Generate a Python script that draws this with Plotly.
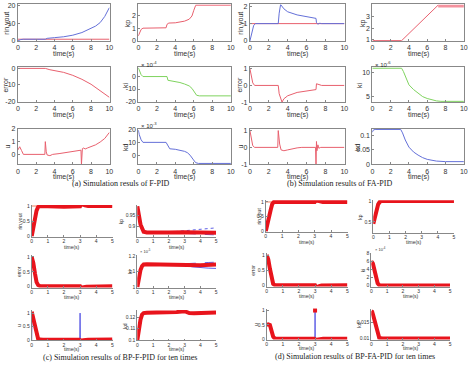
import plotly.graph_objects as go

W, H = 474, 369

# ---------------- data ----------------
# (a) F-PID  (t in s)
a_rin_t = [0, 10]
a_rin = [1, 1]
a_yout_t = [0, 0.3, 0.6, 3.0, 3.2, 3.4, 4, 5, 6, 7, 8, 8.5, 9, 9.5, 10]
a_yout = [0, 0.8, 1.0, 1.0, 1.5, 1.7, 1.9, 2.4, 3.3, 4.8, 7.0, 8.5, 10.5, 14, 19]
a_kp_t = [0, 0.1, 0.3, 0.5, 3.0, 3.1, 3.3, 4.0, 4.5, 5.0, 5.5, 5.8, 6.0, 6.2]
a_kp = [0.4, 0.6, 0.9, 1.0, 1.03, 1.3, 1.4, 1.42, 1.48, 1.55, 1.7, 1.95, 2.4, 2.78]
a_kp_band_t = [6.2, 10]          # oscillation band of kp after saturation
a_kp_band_lo = [2.74, 2.74]
a_kp_band_hi = [2.86, 2.86]
a_err_t = [0, 0.3, 3.0, 3.5, 4, 5, 6, 7, 8, 8.5, 9, 9.5, 10]
a_err = [0, 0, 0, -0.8, -1.2, -2.4, -4.2, -6.6, -9.6, -11.5, -13.5, -15.5, -17.5]
a_ki_t = [0, 0.1, 0.3, 0.5, 3.1, 3.2, 3.5, 4, 4.5, 5, 5.5, 5.8, 6.0, 6.3, 6.6, 10]
a_ki = [7, 5, 1.5, 0, 0, -3, -3.3, -4, -4.8, -6, -7.5, -9.5, -12, -15, -15.5, -15.5]
a_u_t = [0, 0.2, 0.4, 0.6, 2.95, 3.0, 3.1, 3.2, 3.5, 3.8, 4.5, 5, 6, 6.9, 6.95,
         7.05, 7.2, 7.35, 7.6, 8, 8.5, 9, 9.5, 10]
a_u = [0.35, 0.6, 0.3, 0.0, 0.0, 1.0, 0.2, -0.05, -0.1, 0.0, 0.06, 0.12, 0.22, 0.33, -0.8,
       0.45, 0.5, 0.42, 0.5, 0.6, 0.75, 0.97, 1.25, 1.72]
a_kd_t = [0, 0.1, 0.3, 0.5, 3.0, 3.2, 3.4, 4, 4.5, 5, 5.3, 5.6, 5.9, 6.2, 6.5, 10]
a_kd = [19.5, 16, 12, 10, 10, 7, 5, 4.6, 4, 3, 2, 0, -3, -5.8, -6.4, -6.4]

# (b) FA-PID
b_rin_t = [0, 10]
b_rin = [1, 1]
b_yout_t = [0, 0.2, 0.4, 0.6, 3.0, 3.1, 3.25, 3.6, 4, 5, 6, 7, 7.05, 7.2, 7.4, 7.6, 10]
b_yout = [0, 0.5, 0.9, 1.0, 1.0, 1.6, 2.1, 1.85, 1.68, 1.5, 1.4, 1.3, 1.05, 0.97, 1.02, 1.0, 1.0]
b_kp_t = [0, 0.1, 0.3, 3.2, 7.2]
b_kp = [1.0, 0.95, 0.93, 0.93, 4.0]
b_kp_band_t = [7.2, 10]
b_kp_band_lo = [3.8, 3.8]
b_kp_band_hi = [4.05, 4.05]
b_err_t = [0, 0.1, 0.2, 0.3, 0.5, 3.0, 3.1, 3.3, 3.4, 3.6, 4, 5, 6, 7, 7.05, 7.15, 7.3, 7.6, 10]
b_err = [1, 0.75, 0.4, 0.15, 0, 0, -0.5, -0.95, -1.0, -0.8, -0.62, -0.42, -0.32, -0.25,
         0.1, 0.08, 0.02, 0, 0]
b_ki_t = [0, 3.2, 3.4, 3.7, 4, 4.5, 5, 5.5, 6, 6.5, 7, 7.5, 10]
b_ki = [11, 11, 10.3, 8.8, 7.5, 6.5, 5.7, 5.0, 4.6, 4.3, 4.1, 4.0, 4.0]
b_u_t = [0, 0.1, 0.2, 0.3, 0.5, 2.95, 3.0, 3.15, 3.3, 3.6, 4, 4.5, 5, 5.5, 6.95, 7.0,
         7.05, 7.1, 7.2, 7.3, 7.5, 10]
b_u = [1.0, 0.7, 0.3, 0.1, 0, 0, 1.0, 0.2, -0.15, -0.2, -0.15, -0.08, -0.03, 0, 0, -1.0,
       0.35, -0.2, 0.15, -0.05, 0, 0]
b_kd_t = [0, 0.1, 0.3, 3.1, 3.3, 3.6, 4, 4.5, 5, 5.5, 6, 6.5, 7, 8, 10]
b_kd = [0.112, 0.12, 0.122, 0.122, 0.11, 0.085, 0.06, 0.043, 0.032, 0.023, 0.017, 0.013,
        0.011, 0.009, 0.009]

# (c) BP-F-PID, ten runs (t in s)
c_rin_t = [0, 5]
c_rin = [1, 1]
c_yout_t = [0, 0.1, 0.2, 0.3, 0.4, 0.5, 2.0, 3.0, 3.05, 3.15, 3.3, 3.5, 5]
c_yout = [0, 0.3, 0.6, 0.85, 0.97, 1.0, 0.98, 0.99, 1.05, 1.06, 1.02, 1.0, 1.0]
c_kp_t = [0, 0.05, 0.1, 0.2, 0.3, 0.4, 0.6, 1, 2, 3, 4, 5]
c_kp = [0.99, 0.975, 0.95, 0.91, 0.888, 0.878, 0.875, 0.874, 0.875, 0.876, 0.875, 0.874]
c_kpb_t = [2, 2.5, 3, 3.5, 4, 4.5, 5]
c_kpb1 = [0.876, 0.879, 0.882, 0.886, 0.889, 0.892, 0.895]
c_kpb2 = [0.875, 0.874, 0.872, 0.869, 0.867, 0.865, 0.864]
c_err_t = [0, 0.1, 0.2, 0.3, 0.4, 0.5, 0.7, 3.0, 3.05, 3.2, 3.4, 5]
c_err = [1.0, 0.8, 0.45, 0.15, 0.05, 0.02, 0.01, 0.01, -0.04, -0.03, 0.0, 0.01]
c_ki_t = [0, 0.1, 0.2, 0.3, 0.4, 0.6, 1, 2, 3, 3.5, 4, 5]
c_ki = [1.0, 1.06, 1.11, 1.135, 1.145, 1.147, 1.146, 1.143, 1.142, 1.135, 1.14, 1.145]
c_kib_t = [2, 3, 3.5, 4, 4.5, 5]
c_kib1 = [1.143, 1.14, 1.13, 1.125, 1.122, 1.12]
c_kib2 = [1.145, 1.148, 1.152, 1.155, 1.158, 1.16]
c_u_t = [0, 0.1, 0.2, 0.3, 0.4, 0.5, 0.7, 2.95, 3.05, 3.2, 3.5, 5]
c_u = [1.05, 0.8, 0.45, 0.15, 0.05, 0.03, 0.02, 0.02, -0.01, 0.0, 0.02, 0.03]
c_ub_t = [0, 0.02, 0.1, 0.2, 0.3, 0.4, 2.98, 3.0, 3.02, 5]
c_ub = [0, 1.0, 0.8, 0.45, 0.15, 0.05, 0.02, 1.0, 0.0, 0.03]
c_kd_t = [0, 0.1, 0.2, 0.3, 0.4, 0.6, 1, 2, 2.5, 3.0, 3.3, 3.6, 4, 5]
c_kd = [0.1, 0.11, 0.118, 0.1225, 0.1238, 0.1242, 0.1242, 0.1243, 0.1247, 0.1255, 0.1238,
        0.1236, 0.124, 0.1243]

# (d) BP-FA-PID, ten runs
d_rin_t = [0, 5]
d_rin = [1, 1]
d_yout_t = [0, 0.1, 0.2, 0.3, 0.4, 0.5, 3.0, 3.05, 3.15, 3.3, 3.5, 5]
d_yout = [0, 0.2, 0.45, 0.72, 0.93, 1.0, 1.0, 1.04, 1.05, 1.02, 1.0, 1.0]
d_kp_t = [0, 0.1, 0.2, 0.3, 0.4, 0.5, 5]
d_kp = [0.45, 0.6, 0.78, 0.92, 0.98, 1.0, 1.0]
d_err_t = [0, 0.1, 0.2, 0.3, 0.4, 0.5, 0.7, 3.0, 3.05, 3.2, 3.4, 5]
d_err = [1.0, 0.85, 0.55, 0.25, 0.06, 0.02, 0.01, 0.01, -0.04, -0.03, 0.0, 0.01]
d_ki_t = [0, 0.05, 0.1, 0.2, 0.3, 0.4, 0.5, 0.7, 5]
d_ki = [5.8, 5.8, 5.5, 4.0, 2.0, 0.6, 0.15, 0.05, 0.05]
d_u_t = [0, 0.1, 0.2, 0.3, 0.4, 0.5, 0.7, 2.95, 3.05, 3.2, 3.5, 5]
d_u = [0.5, 0.52, 0.5, 0.3, 0.1, 0.03, 0.02, 0.02, -0.02, 0.0, 0.02, 0.02]
d_ub_t = [2.99, 3.0, 3.01]
d_ub = [0.02, 1.0, 0.02]
d_kd_t = [0, 0.05, 0.1, 0.2, 0.3, 0.4, 0.5, 0.7, 5]
d_kd = [0.0185, 0.0183, 0.0175, 0.0155, 0.013, 0.011, 0.0102, 0.01, 0.01]

top_xticks = [0, 2, 4, 6, 8, 10]
bot_xticks = [0, 1, 2, 3, 4, 5]

captions = ["(a) Simulation resuls of F-PID", "(b) Simulation results of FA-PID",
            "(c) Simulation results of BP-F-PID for ten times",
            "(d) Simulation results of BP-FA-PID for ten times"]

# ---------------- styles ----------------
RT, BT, GT = '#e8606e', '#6470d8', '#7fd35f'
RB, BB = '#e8141c', '#6060e6'
THIN = 1.0
THICK = 4.0


def L(t, y, c, w=THIN, dash='solid'):
    return dict(t=t, y=y, c=c, w=w, dash=dash)


def BAND(t, lo, hi, c):
    return dict(band=True, t=t, lo=lo, hi=hi, c=c)


XR_T = [-0.01, 10.03]
XR_B = [-0.005, 5.015]

panels = [
    # (a)
    dict(px=(16, 109), py=(0.5, 37.7), xr=XR_T, yr=[0, 20.8], yt=[0, 10, 20], yl=['0', '10', '20'],
         title='rin,yout', tx=5, xty=51, big=True,
         tr=[L(a_rin_t, a_rin, RT), L(a_yout_t, a_yout, BT)]),
    dict(px=(138, 232), py=(0.5, 37.7), xr=XR_T, yr=[0, 2.85], yt=[0, 1, 2], yl=['0', '1', '2'],
         title='kp', tx=127, xty=51, big=True,
         tr=[BAND(a_kp_band_t, a_kp_band_lo, a_kp_band_hi, 'rgba(240,110,125,0.75)'),
             L(a_kp_t, a_kp, RT)]),
    dict(px=(16, 109), py=(64.3, 100), xr=XR_T, yr=[-20.4, 0.8], yt=[-20, -10, 0], yl=['-20', '-10', '0'],
         title='error', tx=4, xty=113, big=True, tr=[L(a_err_t, a_err, RT)]),
    dict(px=(138, 232), py=(64.3, 100), xr=XR_T, yr=[-20.5, 7.6], yt=[-20, -10, 0], yl=['-20', '-10', '0'],
         title='ki', tx=125, xty=113, big=True, tr=[L(a_ki_t, a_ki, GT)], exp=('-4', 139, 61)),
    dict(px=(16, 109), py=(127.3, 163.3), xr=XR_T, yr=[-0.77, 2.0], yt=[0, 1, 2], yl=['0', '1', '2'],
         title='u', tx=6, xty=176, big=True, tr=[L(a_u_t, a_u, RT)]),
    dict(px=(138, 232), py=(127.3, 163.3), xr=XR_T, yr=[-7, 20.5], yt=[0, 10, 20], yl=['0', '10', '20'],
         title='kd', tx=125, xty=176, big=True, tr=[L(a_kd_t, a_kd, BT)], exp=('-3', 139, 123.5)),
    # (b)
    dict(px=(251, 347), py=(0.5, 37.7), xr=XR_T, yr=[0, 2.1], yt=[0, 1, 2], yl=['0', '1', '2'],
         title='rin,yout', tx=242, xty=51, big=True,
         tr=[L(b_rin_t, b_rin, RT), L(b_yout_t, b_yout, BT)]),
    dict(px=(375, 468), py=(0.5, 37.7), xr=XR_T, yr=[0.9, 4.05], yt=[1, 2, 3], yl=['1', '2', '3'],
         title='kp', tx=365, xty=51, big=True,
         tr=[BAND(b_kp_band_t, b_kp_band_lo, b_kp_band_hi, 'rgba(240,110,125,0.75)'),
             L(b_kp_t, b_kp, RT)]),
    dict(px=(251, 347), py=(64.3, 100), xr=XR_T, yr=[-1.0, 1.1], yt=[-1, 0, 1], yl=['-1', '0', '1'],
         title='error', tx=241, xty=113, big=True, tr=[L(b_err_t, b_err, RT)]),
    dict(px=(375, 468), py=(64.3, 100), xr=XR_T, yr=[3.84, 11.25], yt=[5, 10], yl=['5', '10'],
         title='ki', tx=362, xty=113, big=True, tr=[L(b_ki_t, b_ki, GT)], exp=('-6', 376, 61)),
    dict(px=(251, 347), py=(127.3, 163.3), xr=XR_T, yr=[-1.0, 1.1], yt=[-1, 0, 1], yl=['-1', '0', '1'],
         title='u', tx=242, xty=176, big=True, tr=[L(b_u_t, b_u, RT)]),
    dict(px=(375, 468), py=(127.3, 163.3), xr=XR_T, yr=[0, 0.124], yt=[0, 0.05, 0.1], yl=['0', '0.05', '0.1'],
         title='kd', tx=360, xty=176, big=True, tr=[L(b_kd_t, b_kd, BT)]),
    # (c)
    dict(px=(30, 112), py=(205, 237), xr=XR_B, yr=[0, 1.03], yt=[0, 0.5, 1], yl=['0', '0.5', '1'],
         title='rin,yout', tx=18, xty=248, big=False,
         tr=[L(c_rin_t, c_rin, '#f08060', 1.0), L(c_yout_t, c_yout, RB, THICK)]),
    dict(px=(137, 217), py=(205, 237), xr=XR_B, yr=[0.857, 0.995], yt=[0.9, 0.95], yl=['0.9', '0.95'],
         title='kp', tx=120, xty=248, big=False,
         tr=[L(c_kpb_t, c_kpb1, BB, 1.0, 'dot'), L(c_kpb_t, c_kpb2, BB, 1.0, 'dash'),
             L(c_kp_t, c_kp, RB, THICK)]),
    dict(px=(30, 112), py=(256, 289), xr=XR_B, yr=[-0.03, 1.06], yt=[0, 0.5, 1], yl=['0', '0.5', '1'],
         title='error', tx=18, xty=299, big=False, tr=[L(c_err_t, c_err, RB, THICK)]),
    dict(px=(137, 217), py=(256, 289), xr=XR_B, yr=[0.998, 1.205], yt=[1, 1.1, 1.2], yl=['1', '1.1', '1.2'],
         title='ki', tx=130, xty=299, big=False,
         tr=[L(c_kib_t, c_kib1, BB, 1.0), L(c_kib_t, c_kib2, BB, 1.0, 'dash'),
             L(c_ki_t, c_ki, RB, THICK)], exp=('-5', 138, 252)),
    dict(px=(30, 112), py=(312, 343), xr=XR_B, yr=[-0.005, 1.11], yt=[0, 0.5, 1], yl=['0', '0.5', '1'],
         title='u', tx=18, xty=352, big=False,
         tr=[L(c_ub_t, c_ub, BB, 1.0), L(c_u_t, c_u, RB, THICK)]),
    dict(px=(137, 217), py=(312, 343), xr=XR_B, yr=[0.0995, 0.1265], yt=[0.1, 0.11, 0.12],
         yl=['0.1', '0.11', '0.12'], title='kd', tx=125, xty=352, big=False,
         tr=[L(c_kd_t, c_kd, RB, THICK)]),
    # (d)
    dict(px=(267, 350), py=(200, 232), xr=XR_B, yr=[-0.005, 1.06], yt=[0, 0.5, 1], yl=['0', '0.5', '1'],
         title='rin,yout', tx=260, xty=243, big=False,
         tr=[L(d_rin_t, d_rin, '#f08060', 1.0), L(d_yout_t, d_yout, RB, THICK)]),
    dict(px=(376, 458), py=(200, 233), xr=XR_B, yr=[0.24, 1.02], yt=[0.5, 1], yl=['0.5', '1'],
         title='kp', tx=363, xty=243, big=False, tr=[L(d_kp_t, d_kp, RB, THICK)]),
    dict(px=(268, 350), py=(254, 288), xr=XR_B, yr=[-0.03, 1.06], yt=[0, 0.5, 1], yl=['0', '0.5', '1'],
         title='error', tx=254, xty=298, big=False, tr=[L(d_err_t, d_err, RB, THICK)]),
    dict(px=(374, 454), py=(254, 288), xr=XR_B, yr=[-0.2, 8.1], yt=[0, 2, 4, 6, 8], yl=['0', '2', '4', '6', '8'],
         title='ki', tx=365, xty=298, big=False, tr=[L(d_ki_t, d_ki, RB, THICK)], exp=('-4', 376, 250)),
    dict(px=(268, 350), py=(311, 342), xr=XR_B, yr=[-0.005, 1.05], yt=[0, 0.5, 1], yl=['0', '0.5', '1'],
         title='u', tx=258, xty=351, big=False,
         tr=[L(d_ub_t, d_ub, BB, 1.0), L(d_u_t, d_u, RB, THICK)], mark=(3.0, 1.0)),
    dict(px=(374, 454), py=(311, 342), xr=XR_B, yr=[0.0097, 0.0191], yt=[0.01, 0.015], yl=['0.01', '0.015'],
         title='kd', tx=362, xty=351, big=False, tr=[L(d_kd_t, d_kd, RB, THICK)]),
]

fig = go.Figure()
layout = {}
annotations = []
FONT = 'Liberation Sans, Arial, sans-serif'

for i, p in enumerate(panels, start=1):
    sx = '' if i == 1 else str(i)
    xa, ya = 'x' + sx, 'y' + sx
    for tr in p['tr']:
        if tr.get('band'):
            fig.add_trace(go.Scatter(x=tr['t'], y=tr['lo'], xaxis=xa, yaxis=ya, mode='lines',
                                     line=dict(color=tr['c'], width=0), hoverinfo='skip', showlegend=False))
            fig.add_trace(go.Scatter(x=tr['t'], y=tr['hi'], xaxis=xa, yaxis=ya, mode='lines',
                                     line=dict(color=tr['c'], width=0), fill='tonexty', fillcolor=tr['c'],
                                     hoverinfo='skip', showlegend=False))
            continue
        fig.add_trace(go.Scatter(x=tr['t'], y=tr['y'], xaxis=xa, yaxis=ya, mode='lines',
                                 line=dict(color=tr['c'], width=tr['w'], dash=tr['dash']),
                                 hoverinfo='skip', showlegend=False))
    if 'mark' in p:
        fig.add_trace(go.Scatter(x=[p['mark'][0]], y=[p['mark'][1]], xaxis=xa, yaxis=ya, mode='markers',
                                 marker=dict(color=RB, size=4, symbol='square'), cliponaxis=False,
                                 hoverinfo='skip', showlegend=False))
    big = p['big']
    fs = 7 if big else 5
    x0, x1 = p['px']
    yt0, yt1 = p['py']
    common = dict(showline=True, linecolor='#888', linewidth=0.8, mirror=big, ticks='inside',
                  ticklen=2, tickcolor='#888', tickwidth=0.6, showgrid=False, zeroline=False,
                  ticklabeloverflow='allow',
                  tickfont=dict(size=fs, family=FONT, color='#333'), fixedrange=True)
    layout['xaxis' + sx] = dict(domain=[x0 / W, x1 / W], range=p['xr'], anchor=ya,
                                tickvals=top_xticks if big else bot_xticks, **common)
    layout['yaxis' + sx] = dict(domain=[1 - yt1 / H, 1 - yt0 / H], range=p['yr'], anchor=xa,
                                tickvals=p['yt'], ticktext=p['yl'], **common)
    annotations.append(dict(text=p['title'], x=p['tx'] / W, y=1 - (yt0 + yt1) / 2 / H, xref='paper',
                            yref='paper', textangle=-90, showarrow=False, xanchor='center', yanchor='middle',
                            font=dict(size=fs, family=FONT, color='#333')))
    annotations.append(dict(text='time(s)', x=(x0 + x1) / 2 / W, y=1 - p['xty'] / H, xref='paper',
                            yref='paper', showarrow=False, xanchor='center', yanchor='middle',
                            font=dict(size=fs, family=FONT, color='#333')))
    if 'exp' in p:
        e, ex, ey = p['exp']
        annotations.append(dict(text='× 10<sup>' + e + '</sup>', x=ex / W, y=1 - ey / H, xref='paper',
                                yref='paper', showarrow=False, xanchor='left', yanchor='middle',
                                font=dict(size=fs - 1, family=FONT, color='#333')))

cap_pos = [(121, 183), (342, 183), (120, 360), (358, 359)]
for txt, (cx, cy) in zip(captions, cap_pos):
    annotations.append(dict(text=txt, x=cx / W, y=1 - cy / H, xref='paper', yref='paper',
                            showarrow=False, xanchor='center', yanchor='middle', borderpad=0,
                            font=dict(size=8, family='Liberation Serif, Times New Roman, serif',
                                      color='#222')))

fig.update_layout(width=W, height=H, margin=dict(l=0, r=0, t=0, b=0), paper_bgcolor='white',
                  plot_bgcolor='white', annotations=annotations, showlegend=False, **layout)
fig.write_html("out.html", config={'displayModeBar': False},
               post_script="document.body.style.margin='0';document.body.style.overflow='hidden';")
